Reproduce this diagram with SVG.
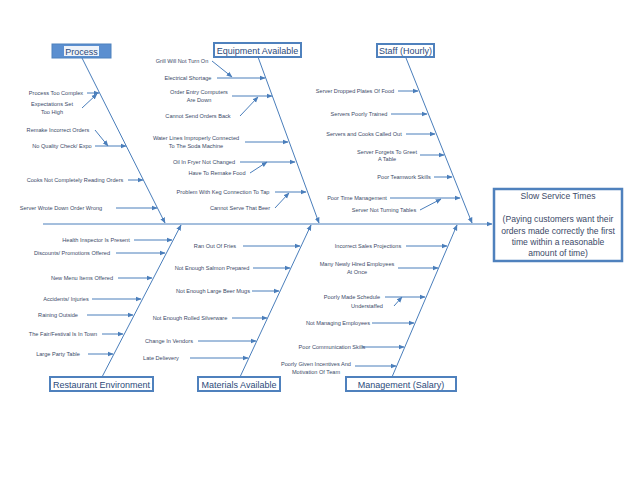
<svg xmlns="http://www.w3.org/2000/svg" width="638" height="493" viewBox="0 0 638 493">
<defs>
<marker id="a" viewBox="0 0 10 10" refX="9" refY="5" markerWidth="6" markerHeight="6" orient="auto"><path d="M0,1 L10,5 L0,9 z" fill="#4a7ebb"/></marker>
<style>
.l{stroke:#4a7ebb;stroke-width:1;fill:none;marker-end:url(#a)}
.t{font-family:"Liberation Sans",Arial,sans-serif;font-size:5.6px;fill:#3b4a68;text-anchor:middle}
.h{font-family:"Liberation Sans",Arial,sans-serif;font-size:9px;fill:#2c4a7a;text-anchor:middle}
.b{fill:#fff;stroke:#4f81bd;stroke-width:2}
.e{font-family:"Liberation Sans",Arial,sans-serif;font-size:8.6px;fill:#3b4a68;text-anchor:middle}
</style>
</defs>
<rect width="638" height="493" fill="#fff"/>
<g id="connectors">
<line class="l" x1="43" y1="224" x2="492" y2="224"/>
<line class="l" x1="82" y1="58" x2="165" y2="223"/>
<line class="l" x1="258" y1="57" x2="319" y2="223"/>
<line class="l" x1="406" y1="58" x2="472" y2="223"/>
<line class="l" x1="102" y1="377" x2="181" y2="225"/>
<line class="l" x1="240" y1="377" x2="311" y2="225"/>
<line class="l" x1="392" y1="377" x2="457" y2="225"/>
<line class="l" x1="87" y1="93" x2="99" y2="93"/>
<line class="l" x1="82" y1="108" x2="97" y2="94"/>
<line class="l" x1="95" y1="130" x2="108" y2="146"/>
<line class="l" x1="95" y1="146" x2="126" y2="146"/>
<line class="l" x1="128" y1="180" x2="143" y2="180"/>
<line class="l" x1="116" y1="208" x2="157" y2="208"/>
<line class="l" x1="212" y1="61" x2="232" y2="77"/>
<line class="l" x1="217" y1="78" x2="265" y2="78"/>
<line class="l" x1="232" y1="96" x2="272" y2="96"/>
<line class="l" x1="240" y1="116" x2="258" y2="97"/>
<line class="l" x1="245" y1="142" x2="288" y2="142"/>
<line class="l" x1="240" y1="162" x2="295" y2="162"/>
<line class="l" x1="250" y1="173" x2="267" y2="162"/>
<line class="l" x1="275" y1="192" x2="306" y2="192"/>
<line class="l" x1="275" y1="208" x2="289" y2="193"/>
<line class="l" x1="398" y1="91" x2="418" y2="91"/>
<line class="l" x1="391" y1="114" x2="427" y2="114"/>
<line class="l" x1="406" y1="134" x2="435" y2="134"/>
<line class="l" x1="420" y1="155" x2="444" y2="155"/>
<line class="l" x1="434" y1="177" x2="452" y2="177"/>
<line class="l" x1="390" y1="198" x2="460" y2="198"/>
<line class="l" x1="420" y1="210" x2="441" y2="199"/>
<line class="l" x1="134" y1="240" x2="172" y2="240"/>
<line class="l" x1="116" y1="253" x2="165" y2="253"/>
<line class="l" x1="118" y1="278" x2="152" y2="278"/>
<line class="l" x1="92" y1="299" x2="141" y2="299"/>
<line class="l" x1="87" y1="315" x2="133" y2="315"/>
<line class="l" x1="102" y1="334" x2="123" y2="334"/>
<line class="l" x1="88" y1="354" x2="113" y2="354"/>
<line class="l" x1="243" y1="246" x2="300" y2="246"/>
<line class="l" x1="253" y1="268" x2="290" y2="268"/>
<line class="l" x1="252" y1="291" x2="279" y2="291"/>
<line class="l" x1="232" y1="318" x2="267" y2="318"/>
<line class="l" x1="198" y1="341" x2="256" y2="341"/>
<line class="l" x1="190" y1="358" x2="248" y2="358"/>
<line class="l" x1="406" y1="246" x2="447" y2="246"/>
<line class="l" x1="398" y1="268" x2="438" y2="268"/>
<line class="l" x1="385" y1="297" x2="425" y2="297"/>
<line class="l" x1="394" y1="306" x2="402" y2="297"/>
<line class="l" x1="372" y1="323" x2="414" y2="323"/>
<line class="l" x1="362" y1="347" x2="404" y2="347"/>
<line class="l" x1="355" y1="366" x2="396" y2="366"/>
</g>
<g id="process"><rect x="52" y="44" width="59" height="14" fill="#5b8fd0" stroke="#4f81bd"/><rect x="64" y="46" width="35" height="10" fill="#eef3fa"/><text class="h" x="81.5" y="54.5">Process</text></g>
<g id="equipment"><rect class="b" x="214" y="43" width="87" height="14"/><text class="h" x="257.5" y="53.5">Equipment Available</text></g>
<g id="staff"><rect class="b" x="377" y="44" width="57" height="13"/><text class="h" x="405.5" y="53.5">Staff (Hourly)</text></g>
<g id="restaurant"><rect class="b" x="50" y="377" width="103" height="14"/><text class="h" x="101.5" y="387.5">Restaurant Environment</text></g>
<g id="materials"><rect class="b" x="198" y="377" width="82" height="14"/><text class="h" x="239" y="387.5">Materials Available</text></g>
<g id="management"><rect class="b" x="346" y="377" width="110" height="14"/><text class="h" x="401" y="387.5">Management (Salary)</text></g>
<g id="effect"><rect x="494" y="189" width="128" height="72" fill="#fff" stroke="#4f81bd" stroke-width="2.5"/>
<text class="e" x="558" y="199">Slow Service Times</text>
<text class="e" x="558" y="222">(Paying customers want their</text>
<text class="e" x="558" y="233.5">orders made correctly the first</text>
<text class="e" x="558" y="244.5">time within a reasonable</text>
<text class="e" x="558" y="256">amount of time)</text></g>
<g id="labels">
<text class="t" x="56" y="95">Process Too Complex</text>
<text class="t" x="52" y="106">Expectations Set</text><text class="t" x="52" y="114">Too High</text>
<text class="t" x="58" y="132">Remake Incorrect Orders</text>
<text class="t" x="62" y="148">No Quality Check/ Expo</text>
<text class="t" x="75" y="182">Cooks Not Completely Reading Orders</text>
<text class="t" x="61" y="210">Server Wrote Down Order Wrong</text>
<text class="t" x="182" y="63">Grill Will Not Turn On</text>
<text class="t" x="188" y="80">Electrical Shortage</text>
<text class="t" x="199" y="94">Order Entry Computers</text><text class="t" x="199" y="102">Are Down</text>
<text class="t" x="198" y="118">Cannot Send Orders Back</text>
<text class="t" x="196" y="140">Water Lines Improperly Connected</text><text class="t" x="196" y="148">To The Soda Machine</text>
<text class="t" x="204" y="164">Oil In Fryer Not Changed</text>
<text class="t" x="217" y="175">Have To Remake Food</text>
<text class="t" x="223" y="194">Problem With Keg Connection To Tap</text>
<text class="t" x="240" y="210">Cannot Serve That Beer</text>
<text class="t" x="355" y="93">Server Dropped Plates Of Food</text>
<text class="t" x="359" y="116">Servers Poorly Trained</text>
<text class="t" x="364" y="136">Servers and Cooks Called Out</text>
<text class="t" x="387" y="154">Server Forgets To Greet</text><text class="t" x="387" y="161">A Table</text>
<text class="t" x="404" y="179">Poor Teamwork Skills</text>
<text class="t" x="357" y="200">Poor Time Management</text>
<text class="t" x="384" y="212">Server Not Turning Tables</text>
<text class="t" x="96" y="242">Health Inspector Is Present</text>
<text class="t" x="72" y="255">Discounts/ Promotions Offered</text>
<text class="t" x="82" y="280">New Menu Items Offered</text>
<text class="t" x="66" y="301">Accidents/ Injuries</text>
<text class="t" x="58" y="317">Raining Outside</text>
<text class="t" x="63" y="336">The Fair/Festival Is In Town</text>
<text class="t" x="58" y="356">Large Party Table</text>
<text class="t" x="215" y="248">Ran Out Of Fries</text>
<text class="t" x="212" y="270">Not Enough Salmon Prepared</text>
<text class="t" x="213" y="293">Not Enough Large Beer Mugs</text>
<text class="t" x="190" y="320">Not Enough Rolled Silverware</text>
<text class="t" x="169" y="343">Change In Vendors</text>
<text class="t" x="161" y="360">Late Delievery</text>
<text class="t" x="368" y="248">Incorrect Sales Projections</text>
<text class="t" x="357" y="266">Many Newly Hired Employees</text><text class="t" x="357" y="274">At Once</text>
<text class="t" x="352" y="299">Poorly Made Schedule</text><text class="t" x="367" y="308">Understaffed</text>
<text class="t" x="338" y="325">Not Managing Employees</text>
<text class="t" x="332" y="349">Poor Communication Skills</text>
<text class="t" x="316" y="366">Poorly Given Incentives And</text><text class="t" x="316" y="374">Motivation Of Team</text>
</g>
</svg>
